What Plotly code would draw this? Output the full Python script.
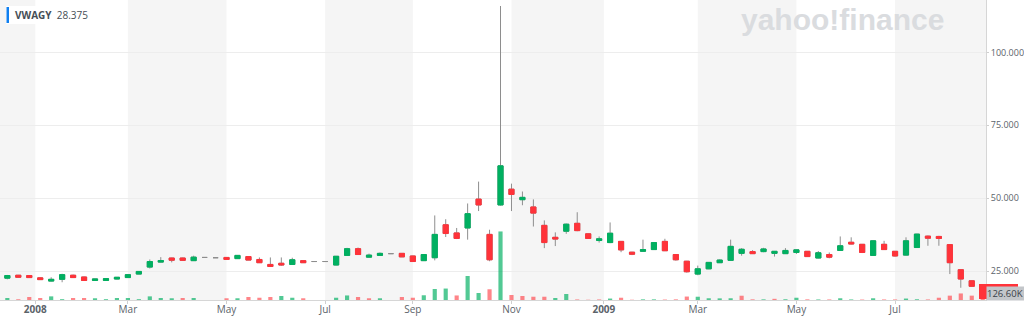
import plotly.graph_objects as go

# weekly candles, Dec 2007 .. Aug 2009
opens = [22.6, 23.6, 23.5, 22.7, 21.6, 22.2, 23.6, 23.0, 21.8, 21.8,
         22.3, 22.8, 24.0, 26.4, 28.1, 29.5, 29.5, 28.6, 29.7, 29.6,
         29.7, 29.3, 30.0, 29.0, 27.3, 27.7, 27.3, 28.6, 28.3, 28.3,
         27.1, 30.4, 32.7, 29.8, 30.4, 31.0, 31.1, 30.2, 28.6, 29.6,
         40.9, 38.1, 39.8, 49.7, 37.6, 47.7, 53.1, 49.5, 47.0, 40.7,
         36.6, 38.7, 41.4, 37.8, 35.5, 34.8, 35.2, 31.5, 31.8, 32.4,
         35.2, 30.7, 28.4, 24.0, 25.8, 27.9, 28.7, 31.1, 31.7, 31.7,
         31.1, 31.0, 31.4, 31.8, 29.5, 30.7, 32.1, 34.9, 34.2, 30.4,
         34.2, 31.8, 30.5, 33.1, 37.0, 36.9, 34.1, 25.5, 21.7, 20.0]
highs = [23.7, 23.7, 23.6, 22.8, 22.9, 24.1, 23.8, 23.1, 22.4, 22.5,
         22.9, 23.9, 24.9, 29.0, 29.8, 29.6, 29.6, 30.3, 29.7, 29.6,
         29.8, 30.4, 30.1, 29.7, 29.7, 29.7, 29.6, 28.7, 28.3, 28.3,
         30.1, 33.0, 33.1, 31.0, 31.4, 31.0, 31.2, 30.3, 30.7, 44.1,
         42.8, 39.8, 48.2, 55.7, 39.2, 115.9, 55.0, 52.3, 49.6, 42.4,
         38.3, 41.3, 45.2, 37.9, 36.9, 41.7, 35.3, 31.6, 35.8, 34.9,
         36.1, 30.8, 28.5, 26.9, 28.1, 29.0, 35.8, 32.9, 32.2, 33.0,
         31.9, 32.9, 32.4, 31.9, 31.9, 31.4, 36.9, 36.6, 34.3, 35.5,
         35.4, 31.9, 36.6, 37.8, 37.2, 37.1, 34.2, 25.6, 21.8, 20.1]
lows = [22.2, 22.8, 22.7, 22.0, 21.5, 21.2, 22.7, 21.8, 21.7, 21.8,
        22.2, 22.7, 24.0, 25.9, 28.0, 28.0, 28.6, 28.5, 29.7, 29.6,
        29.0, 29.3, 28.8, 27.8, 26.5, 26.8, 27.2, 27.9, 28.3, 28.3,
        27.0, 30.3, 30.7, 29.7, 30.4, 31.0, 29.9, 28.3, 28.5, 28.7,
        36.7, 36.0, 35.8, 45.6, 28.4, 47.5, 45.6, 47.6, 40.3, 32.9,
        33.6, 37.8, 38.7, 36.1, 34.8, 34.6, 31.5, 30.5, 31.7, 32.3,
        31.9, 28.6, 24.5, 23.6, 25.7, 27.8, 28.6, 30.3, 30.9, 31.5,
        30.0, 30.9, 30.9, 29.9, 29.4, 29.4, 32.0, 34.2, 31.2, 30.3,
        32.3, 30.0, 30.4, 33.0, 33.7, 33.7, 24.0, 19.3, 19.6, 17.6]
closes = [23.5, 22.9, 22.8, 22.1, 22.2, 23.8, 22.8, 21.8, 22.35, 22.45,
          22.9, 23.8, 24.9, 28.3, 28.65, 28.75, 28.7, 29.8, 29.7, 29.6,
          29.0, 30.4, 28.8, 27.9, 26.6, 27.1, 28.9, 27.9, 28.3, 28.3,
          30.1, 32.7, 30.7, 30.5, 31.1, 31.0, 29.9, 28.3, 30.7, 37.6,
          37.9, 36.2, 44.7, 47.7, 28.9, 61.1, 51.3, 50.3, 44.9, 34.8,
          36.0, 41.1, 38.9, 36.2, 36.1, 38.0, 32.3, 30.8, 32.4, 34.8,
          32.0, 28.9, 24.8, 25.8, 28.0, 28.8, 33.5, 32.5, 31.0, 32.6,
          31.8, 32.1, 32.3, 30.0, 31.3, 29.8, 33.7, 34.3, 31.4, 35.4,
          32.4, 30.2, 35.4, 37.7, 36.3, 36.2, 27.9, 22.3, 19.8, 17.7]
volumes = [110000, 40000, 165000, 110000, 200000, 45000, 110000, 110000, 95000, 45000,
           110000, 110000, 45000, 200000, 110000, 95000, 110000, 110000, 0, 0,
           95000, 95000, 165000, 125000, 165000, 220000, 125000, 95000, 0, 0,
           125000, 250000, 165000, 95000, 95000, 0, 165000, 125000, 260000, 605000,
           630000, 250000, 1320000, 385000, 590000, 3770000, 275000, 220000, 180000, 180000,
           110000, 330000, 30000, 15000, 30000, 80000, 125000, 15000, 35000, 35000,
           25000, 35000, 190000, 180000, 95000, 90000, 95000, 235000, 35000, 35000,
           65000, 40000, 125000, 35000, 30000, 30000, 95000, 30000, 25000, 95000,
           30000, 30000, 80000, 40000, 30000, 125000, 240000, 360000, 240000, 126600]

tick_pos = [2.55, 11, 20, 29, 37, 46, 54.43, 63, 72, 81]
tick_labels = ["<b>2008</b>", "Mar", "May", "Jul", "Sep", "Nov",
               "<b>2009</b>", "Mar", "May", "Jul"]
price_ticks = [25, 50, 75, 100]

GREEN = "#00b061"
RED = "#ff333a"
WICK = "#8e8e8e"

n = len(closes)
xs = list(range(n))

# bodies only (no wicks), flat candles left to the wick trace
b_open = [o if o != c else None for o, c in zip(opens, closes)]
b_close = [c if o != c else None for o, c in zip(opens, closes)]
b_high = [max(o, c) if o != c else None for o, c in zip(opens, closes)]
b_low = [min(o, c) if o != c else None for o, c in zip(opens, closes)]

vol_colors = []
for i in range(n):
    prev = closes[i - 1] if i > 0 else opens[i]
    vol_colors.append("rgba(0,176,97,0.68)" if closes[i] >= prev else "rgba(255,51,58,0.6)")

fig = go.Figure()
fig.add_trace(go.Bar(x=xs, y=volumes, marker_color=vol_colors, marker_line_width=0,
                     width=0.38, yaxis="y2", showlegend=False, hoverinfo="skip"))
fig.add_trace(go.Candlestick(
    x=xs, open=opens, high=highs, low=lows, close=closes,
    increasing=dict(line=dict(color=WICK, width=1), fillcolor=WICK),
    decreasing=dict(line=dict(color=WICK, width=1), fillcolor=WICK),
    whiskerwidth=0, showlegend=False, yaxis="y"))
fig.add_trace(go.Candlestick(
    x=xs, open=b_open, high=b_high, low=b_low, close=b_close,
    increasing=dict(line=dict(color=GREEN, width=1), fillcolor=GREEN),
    decreasing=dict(line=dict(color=RED, width=1), fillcolor=RED),
    whiskerwidth=0, showlegend=False, yaxis="y"))

W, H = 986.0, 300.0
shapes = []
# alternating two-month background bands
bounds = [-0.67] + tick_pos + [89.3]
for k in range(len(bounds) - 1):
    if k % 2 == 0:
        shapes.append(dict(type="rect", xref="x", yref="paper", x0=bounds[k], x1=bounds[k + 1],
                           y0=0, y1=1, fillcolor="#f5f5f5", line_width=0, layer="below"))
# legend box
shapes.append(dict(type="rect", xref="paper", yref="paper", x0=6 / W, x1=80 / W,
                   y0=1 - 24 / H, y1=1 - 6 / H, fillcolor="white", line_width=0, layer="below"))
shapes.append(dict(type="rect", xref="paper", yref="paper", x0=6.5 / W, x1=9 / W,
                   y0=1 - 23 / H, y1=1 - 7 / H, fillcolor="#0f7ff0", line_width=0, layer="above"))
# last-price marker strip (mostly hidden behind the volume label)
shapes.append(dict(type="rect", xref="paper", yref="paper", x0=979 / W, x1=1018 / W,
                   y0=1 - 299 / H, y1=1 - 284 / H, fillcolor=RED, line_width=0, layer="above"))

annotations = [
    dict(xref="paper", yref="paper", x=13 / W, y=1 - 15 / H, xanchor="left", yanchor="middle",
         text="<b>VWAGY</b>  28.375", showarrow=False,
         font=dict(family="Open Sans", size=10, color="#464e56")),
    dict(xref="paper", yref="paper", x=842 / W, y=1 - 20 / H, xanchor="center", yanchor="middle",
         text="<b>yahoo!finance</b>", showarrow=False,
         font=dict(family="Liberation Sans", size=30, color="#dadcdf")),
    dict(xref="paper", yref="paper", x=1, y=7 / H, xanchor="left", yanchor="middle",
         text="126.60K", showarrow=False, bgcolor="#c3c6ca", borderpad=0, width=38,
         align="left",
         font=dict(family="Open Sans", size=9.5, color="#3a4148")),
]

fig.update_layout(
    width=1024, height=318,
    margin=dict(l=0, r=38, t=0, b=18, autoexpand=False),
    paper_bgcolor="white", plot_bgcolor="white",
    showlegend=False,
    boxgap=0.33,
    shapes=shapes, annotations=annotations,
    font=dict(family="Open Sans", size=10, color="#5b636a"),
    xaxis=dict(range=[-0.67, 89.3], tickmode="array", tickvals=tick_pos, ticktext=tick_labels,
               showgrid=False, zeroline=False, showline=True, linecolor="#d6d6d6",
               ticks="outside", ticklen=3, tickcolor="#cfcfcf", automargin=False,
               ticklabelstandoff=-3,
               tickfont=dict(size=10, color="#5b636a"),
               rangeslider=dict(visible=False)),
    yaxis=dict(range=[15.11, 117.96], side="right", tickmode="array", tickvals=price_ticks,
               tickformat=".3f", showgrid=True, gridcolor="#ededed", zeroline=False,
               showline=True, linecolor="#d6d6d6", ticks="outside", ticklen=2, automargin=False,
               tickcolor="#cfcfcf", tickfont=dict(size=9, color="#5b636a")),
    yaxis2=dict(range=[0, 16.5e6], overlaying="y", side="left", visible=False, showgrid=False),
)

fig.write_html("out.html")
